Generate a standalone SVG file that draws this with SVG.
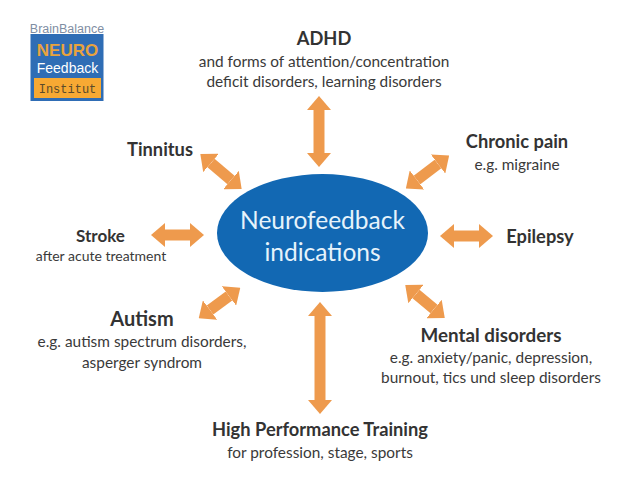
<svg xmlns="http://www.w3.org/2000/svg" width="638" height="478" viewBox="0 0 638 478">
<style>
text{font-family:Lato,"Liberation Sans",sans-serif;text-anchor:middle;fill:#333}
.h{font-size:18.300px;font-weight:700}
.s{font-size:15.400px;fill:#3a3a3a}
.a{stroke:#ee9a4d;stroke-width:11;fill:none;marker-start:url(#ah);marker-end:url(#ah)}
</style>
<defs><marker id="ah" markerUnits="userSpaceOnUse" markerWidth="14" markerHeight="24" refX="0" refY="12" orient="auto-start-reverse" viewBox="0 0 14 24"><path d="M0 0L14 12L0 24Z" fill="#ee9a4d"/></marker></defs>
<rect width="638" height="478" fill="#fff"/>
<g id="connectors">
<line class="a" x1="319" y1="110" x2="319" y2="153"/>
<line class="a" x1="211" y1="163" x2="231" y2="180"/>
<line class="a" x1="438" y1="164" x2="417" y2="180"/>
<line class="a" x1="165" y1="235" x2="190" y2="235"/>
<line class="a" x1="454" y1="236" x2="479" y2="236"/>
<line class="a" x1="210" y1="310" x2="229" y2="296"/>
<line class="a" x1="416" y1="294" x2="434" y2="309"/>
<line class="a" x1="320" y1="316" x2="320" y2="400"/>
</g>
<g id="logo">
<text x="67" y="33" style="font-family:'Liberation Sans',sans-serif;font-size:12.500px;fill:#7f8ea3">BrainBalance</text>
<rect x="30.500" y="34" width="73" height="67" fill="#2f6db5"/>
<text x="67.500" y="56" style="font-family:'Liberation Sans',sans-serif;font-size:17px;font-weight:700;fill:#e8a33d">NEURO</text>
<text x="67.500" y="73" style="font-family:'Liberation Sans',sans-serif;font-size:14px;fill:#fff">Feedback</text>
<rect x="34" y="78" width="67" height="20" fill="#f7a933"/>
<text x="67.500" y="93" style="font-family:'Liberation Mono',monospace;font-size:12px;fill:#5a4a2a">Institut</text>
</g>
<g id="center">
<ellipse cx="322.500" cy="233" rx="105.500" ry="59" fill="#1268b3"/>
<text x="322.500" y="229" style="font-size:24.500px;fill:#e6f3fb">Neurofeedback</text>
<text x="322.500" y="261" style="font-size:24.500px;fill:#e6f3fb">indications</text>
</g>
<g id="adhd"><text class="h" x="324" y="45">ADHD</text><text class="s" x="324" y="67">and forms of attention/concentration</text><text class="s" x="324" y="87">deficit disorders, learning disorders</text></g>
<g id="tinnitus"><text class="h" x="160" y="156">Tinnitus</text></g>
<g id="chronic"><text class="h" x="517" y="148">Chronic pain</text><text class="s" x="517" y="170">e.g. migraine</text></g>
<g id="stroke"><text class="h" x="100.500" y="242" style="font-size:17px">Stroke</text><text class="s" x="101" y="261" style="font-size:14px">after acute treatment</text></g>
<g id="epilepsy"><text class="h" x="540" y="243">Epilepsy</text></g>
<g id="autism"><text class="h" x="142" y="326" style="font-size:20px">Autism</text><text class="s" x="142" y="347">e.g. autism spectrum disorders,</text><text class="s" x="142" y="368">asperger syndrom</text></g>
<g id="mental"><text class="h" x="491" y="342" style="font-size:18.800px">Mental disorders</text><text class="s" x="491" y="363">e.g. anxiety/panic, depression,</text><text class="s" x="491" y="383">burnout, tics und sleep disorders</text></g>
<g id="hpt"><text class="h" x="320" y="436">High Performance Training</text><text class="s" x="320" y="458">for profession, stage, sports</text></g>
</svg>
